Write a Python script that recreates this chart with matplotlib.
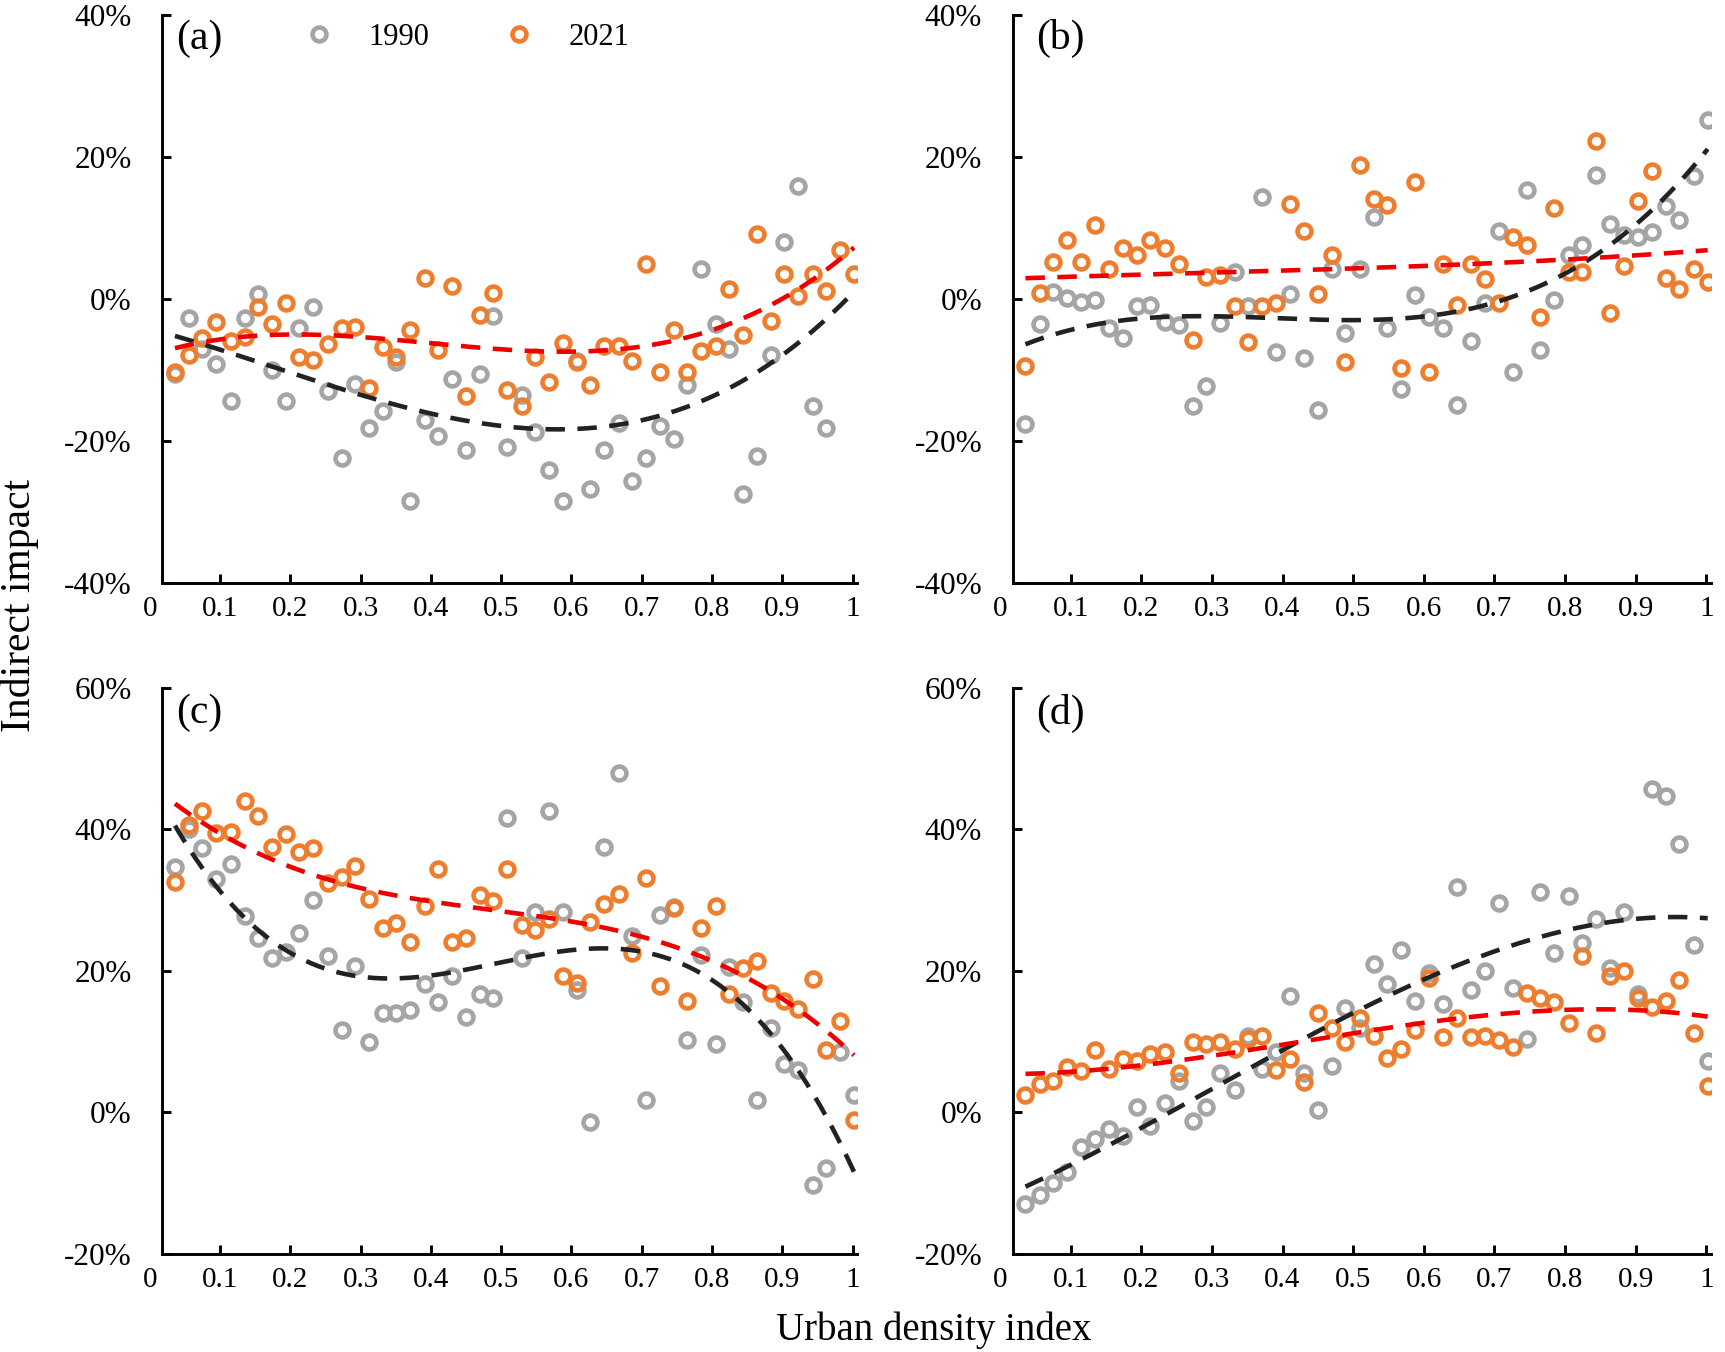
import numpy as np
import matplotlib
matplotlib.use("Agg")
import matplotlib.pyplot as plt
from matplotlib.ticker import FuncFormatter, FixedLocator

plt.rcParams['font.family'] = ['Liberation Serif', 'DejaVu Serif']
plt.rcParams['axes.unicode_minus'] = False
plt.rcParams['lines.scale_dashes'] = False

# ---------------- data ----------------
X = [0.036, 0.056, 0.075, 0.095, 0.115, 0.135, 0.154, 0.174, 0.194, 0.213,
     0.233, 0.253, 0.273, 0.292, 0.312, 0.332, 0.351, 0.371, 0.391, 0.410,
     0.430, 0.450, 0.470, 0.489, 0.509, 0.529, 0.548, 0.568, 0.588, 0.608,
     0.627, 0.647, 0.667, 0.686, 0.706, 0.726, 0.746, 0.765, 0.785, 0.805,
     0.824, 0.844, 0.864, 0.884, 0.903, 0.923, 0.943, 0.962, 0.982, 1.002]

NA = float('nan')
A_1990 = [-10.5, -2.7, -7.0, -9.2, -14.3, -2.7, 0.8, -10.0, -14.4, -4.0,
          -1.1, -12.9, -22.4, -11.9, -18.1, -15.7, -8.9, -28.5, -17.0, -19.3,
          -11.2, -21.3, -10.5, -2.4, -20.8, -13.5, -18.7, -24.0, -28.5, -8.7,
          -26.7, -21.3, -17.5, -25.6, -22.4, -17.8, -19.7, -12.1, 4.2, -3.5,
          -7.0, -27.4, -22.1, -7.8, 8.0, 15.9, -15.0, -18.2, NA, NA]
A_2021 = [-10.2, -7.8, -5.4, -3.2, -5.9, -5.3, -1.1, -3.5, -0.5, -8.1,
          -8.6, -6.3, -4.0, -3.9, -12.5, -6.8, -8.1, -4.4, 3.0, -7.1,
          1.9, -13.7, -2.2, 0.9, -12.8, -15.1, -8.1, -11.6, -6.2, -8.8,
          -12.1, -6.6, -6.6, -8.7, 5.0, -10.2, -4.3, -10.2, -7.3, -6.6,
          1.5, -5.0, 9.2, -3.0, 3.5, 0.5, 3.5, 1.1, 7.0, 3.5]

B_1990 = [-17.6, -3.5, 1.0, 0.2, -0.4, -0.1, -4.1, -5.5, -0.9, -0.8,
          -3.2, -3.6, -15.0, -12.2, -3.3, 3.8, -0.9, 14.4, -7.4, 0.7,
          -8.3, -15.6, 4.2, -4.7, 4.2, 11.6, -4.0, -12.7, 0.6, -2.5,
          -4.0, -14.9, -5.9, -0.6, 9.6, -10.3, 15.4, -7.1, -0.1, 6.2,
          7.7, 17.5, 10.6, 9.0, 8.7, 9.5, 13.2, 11.1, 17.3, 25.3]
B_2021 = [-9.4, 0.9, 5.3, 8.3, 5.2, 10.5, 4.3, 7.2, 6.3, 8.3,
          7.2, 4.9, -5.8, 3.1, 3.4, -1.0, -6.0, -0.9, -0.5, 13.4,
          9.6, 0.7, 6.3, -8.9, 18.9, 14.1, 13.3, -9.7, 16.5, -10.3,
          5.0, -0.8, 5.0, 2.8, -0.5, 8.8, 7.7, -2.5, 12.8, 3.9,
          3.8, 22.3, -1.9, 4.7, 13.9, 18.0, 3.0, 1.5, 4.2, 2.4]

C_1990 = [34.6, 40.0, 37.3, 32.9, 35.1, 27.7, 24.7, 21.8, 22.7, 25.3,
          30.0, 22.1, 11.7, 20.7, 10.0, 14.1, 14.1, 14.4, 18.1, 15.6,
          19.3, 13.5, 16.7, 16.1, 41.6, 21.8, 28.3, 42.5, 28.3, 17.3,
          -1.4, 37.5, 47.9, 24.9, 1.7, 27.9, 29.0, 10.3, 22.2, 9.7,
          20.6, 15.6, 1.7, 11.9, 6.9, 6.0, -10.3, -7.9, 8.6, 2.5]
C_2021 = [32.6, 40.6, 42.5, 39.4, 39.6, 44.0, 41.8, 37.5, 39.3, 36.8,
          37.3, 32.4, 33.2, 34.8, 30.1, 26.1, 26.7, 24.0, 29.2, 34.4,
          24.0, 24.7, 30.7, 29.8, 34.4, 26.4, 25.7, 27.3, 19.2, 18.3,
          26.9, 29.4, 30.9, 22.5, 33.1, 17.8, 28.9, 15.7, 26.1, 29.2,
          16.7, 20.4, 21.4, 16.9, 15.7, 14.6, 18.8, 8.8, 12.9, -1.1]

D_1990 = [-12.9, -11.7, -9.9, -8.4, -4.9, -3.8, -2.3, -3.3, 0.7, -1.9,
          1.4, 4.4, -1.2, 0.7, 5.6, 3.1, 10.8, 6.1, 8.6, 16.4,
          5.6, 0.4, 6.6, 14.7, 11.9, 21.0, 18.1, 22.9, 15.7, 19.7,
          15.3, 31.8, 17.3, 20.0, 29.6, 17.6, 10.4, 31.2, 22.5, 30.6,
          23.9, 27.3, 20.4, 28.3, 16.7, 45.7, 44.7, 37.9, 23.6, 7.2]
D_2021 = [2.5, 4.0, 4.4, 6.4, 5.8, 8.8, 6.2, 7.6, 7.2, 8.3,
          8.6, 5.6, 9.9, 9.6, 10.0, 8.9, 10.4, 10.8, 6.0, 7.5,
          4.3, 14.0, 11.9, 10.0, 13.3, 10.8, 7.7, 9.0, 11.6, 19.0,
          10.7, 13.3, 10.7, 10.8, 10.3, 9.2, 16.9, 16.2, 15.6, 12.7,
          22.1, 11.2, 19.2, 20.0, 16.1, 14.9, 15.8, 18.7, 11.2, 3.8]

PANEL_LABELS = ['(a)', '(b)', '(c)', '(d)']
TOP_TICKS = [-40, -20, 0, 20, 40]
BOT_TICKS = [-20, 0, 20, 40, 60]
X_TICKS = [0.1, 0.2, 0.3, 0.4, 0.5, 0.6, 0.7, 0.8, 0.9, 1.0]
X_TICK_LABELS = ['0.1', '0.2', '0.3', '0.4', '0.5', '0.6', '0.7', '0.8', '0.9', '1']
SERIES_LABELS = ['1990', '2021']
POLY_DEG = 3

# ---------------- style ----------------
GRAY = '#a5a5a5'
ORANGE = '#ee7d2e'
BLACK_FIT = '#222222'
RED_FIT = '#ee0000'
XMIN, XMAX = 0.018, 1.006

W, H = 1725, 1352
fig = plt.figure(figsize=(W / 100, H / 100), dpi=100)

wA = 0.4026
wB = 0.4045
hT = 0.41985
hB = 0.41904
positions = [
    [0.0941, 0.56876, wA, hT],
    [0.5871, 0.56876, wB, hT],
    [0.0941, 0.07242, wA, hB],
    [0.5871, 0.07242, wB, hB],
]
data = [(A_1990, A_2021, TOP_TICKS), (B_1990, B_2021, TOP_TICKS),
        (C_1990, C_2021, BOT_TICKS), (D_1990, D_2021, BOT_TICKS)]

xtick_fs = 21
ytick_fs = 22.5
xpad = 9
ypad = 22
x = np.array(X)

for k, (pos, (s90, s21, yt)) in enumerate(zip(positions, data)):
    ax = fig.add_axes(pos)
    y90 = np.array(s90) / 100
    y21 = np.array(s21) / 100
    mk = dict(linestyle='none', marker='o', markersize=10.0, markeredgewidth=3.3,
              markerfacecolor='none')
    h90, = ax.plot(x, y90, color=GRAY, zorder=2, **mk)
    h21, = ax.plot(x, y21, color=ORANGE, zorder=3, **mk)

    xx = np.linspace(x[0], x[-1], 300)
    m90 = ~np.isnan(y90)
    m21 = ~np.isnan(y21)
    p90 = np.polyfit(x[m90], y90[m90], POLY_DEG)
    p21 = np.polyfit(x[m21], y21[m21], POLY_DEG)
    ax.plot(xx, np.polyval(p90, xx), color=BLACK_FIT, lw=3.3,
            dashes=(14.0, 9.0), zorder=4)
    ax.plot(xx, np.polyval(p21, xx), color=RED_FIT, lw=3.3,
            dashes=(14.0, 9.0), zorder=5)

    ax.set_xlim(XMIN, XMAX)
    ax.set_ylim(yt[0] / 100, yt[-1] / 100)
    ax.yaxis.set_major_locator(FixedLocator([v / 100 for v in yt]))
    ax.yaxis.set_major_formatter(FuncFormatter(lambda v, p: f"{int(round(v * 100))}%"))
    ax.set_xticks(X_TICKS)
    ax.set_xticklabels(X_TICK_LABELS)
    for s in ['top', 'right']:
        ax.spines[s].set_visible(False)
    for s in ['left', 'bottom']:
        ax.spines[s].set_linewidth(2.1)
        ax.spines[s].set_color('black')
    ax.tick_params(axis='both', direction='in', length=6.5, width=2.1,
                   colors='black')
    ax.tick_params(axis='x', pad=xpad, labelsize=xtick_fs)
    ax.tick_params(axis='y', pad=ypad, labelsize=ytick_fs)
    # the "0" label at the origin of the x axis
    ax.annotate('0', xy=(0, 0), xycoords=ax.get_xaxis_transform(),
                xytext=(0, -xpad), textcoords='offset points',
                ha='center', va='top', fontsize=xtick_fs, annotation_clip=False)

    lx = 0.020 if k in (0, 2) else 0.033
    ly = 0.959 if k < 2 else 0.955
    ax.text(lx, ly, PANEL_LABELS[k], transform=ax.transAxes, ha='left',
            va='center', fontsize=30)

    if k == 0:
        ax.legend([h90, h21], SERIES_LABELS, loc='center left',
                  bbox_to_anchor=(0.203, 0.961), ncol=2, frameon=False,
                  fontsize=22, handlelength=1.0, handletextpad=1.12,
                  columnspacing=2.45, borderpad=0, borderaxespad=0,
                  numpoints=1)

fig.text(0.0115, 0.5525, 'Indirect impact', rotation=90, ha='center',
         va='center', fontsize=30)
fig.text(0.5415, 0.016, 'Urban density index', ha='center', va='center',
         fontsize=28)

fig.savefig('out.png', dpi=100)
